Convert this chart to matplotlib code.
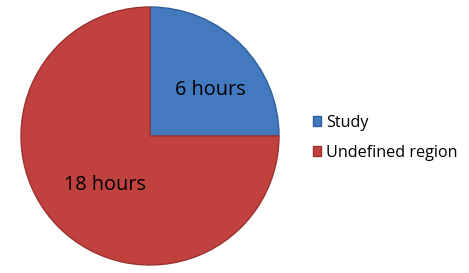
import matplotlib
matplotlib.use("Agg")
import matplotlib.pyplot as plt
from matplotlib.patches import Patch

categories = ["Study", "Undefined region"]
hours = [6, 18]
labels = ["6 hours", "18 hours"]
colors = ["#4279BF", "#C0413E"]
edges = ["#2F5F9A", "#9A3230"]
label_pos = [(0.47, 0.36), (-0.35, -0.38)]

fig = plt.figure(figsize=(4.69, 2.73), dpi=100)
ax = fig.add_axes([21/469, 8/273, 258/469, 258/273])
wedges, texts = ax.pie(hours, labels=labels, colors=colors, startangle=90,
                       counterclock=False, labeldistance=0.6,
                       wedgeprops=dict(linewidth=1.0),
                       textprops=dict(fontsize=14.3, family="Open Sans", color="black"))
for w, e in zip(wedges, edges):
    w.set_edgecolor(e)
for t, p in zip(texts, label_pos):
    t.set_ha("center")
    t.set_va("center")
    t.set_position(p)
ax.set_xlim(-1.0, 1.0)
ax.set_ylim(-1.0, 1.0)
ax.set_aspect("equal")
ax.axis("off")

handles = [Patch(facecolor=c, edgecolor=e) for c, e in zip(colors, edges)]
fig.legend(handles, categories, loc="center left", bbox_to_anchor=(298/469, 0.495),
           frameon=False, prop=dict(family="Open Sans", size=11.6),
           handlelength=0.55, handleheight=0.55, handletextpad=0.3, labelspacing=0.85)

fig.savefig("out.png", dpi=100)
